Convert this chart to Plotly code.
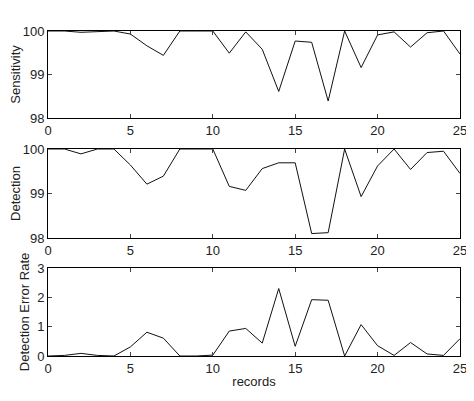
import plotly.graph_objects as go
from plotly.subplots import make_subplots

records = list(range(26))
sensitivity = [100, 100, 99.97, 99.99, 100, 99.93, 99.66, 99.44, 100, 100, 100, 99.49, 99.98,
               99.58, 98.61, 99.77, 99.74, 98.39, 100, 99.16, 99.91, 99.98, 99.63, 99.96, 100, 99.47]
detection = [100, 100, 99.89, 100, 100, 99.64, 99.21, 99.39, 100, 100, 100, 99.16, 99.07,
             99.56, 99.69, 99.69, 98.10, 98.12, 100, 98.93, 99.62, 100, 99.54, 99.92, 99.95, 99.45]
error_rate = [0, 0.02, 0.09, 0.02, 0, 0.31, 0.81, 0.61, 0, 0, 0.03, 0.85, 0.94,
              0.44, 2.3, 0.33, 1.92, 1.9, 0, 1.07, 0.35, 0.02, 0.46, 0.07, 0.02, 0.59]

x_ticks = [0, 5, 10, 15, 20, 25]
panels = [
    (sensitivity, "Sensitivity", [98, 100], [98, 99, 100]),
    (detection, "Detection", [98, 100], [98, 99, 100]),
    (error_rate, "Detection Error Rate", [0, 3], [0, 1, 2, 3]),
]

W, H = 466, 393  # page has an 8px body margin
fig = make_subplots(rows=3, cols=1)
xdom = [40 / W, 452 / W]
ydoms = [[1 - 110 / H, 1 - 23 / H], [1 - 230 / H, 1 - 141 / H], [1 - 348 / H, 1 - 260 / H]]
font = dict(family="Liberation Sans, Arial, sans-serif", size=13, color="#222")

for i, (vals, title, yr, yt) in enumerate(panels):
    r = i + 1
    fig.add_trace(go.Scatter(x=records, y=vals, mode="lines",
                             line=dict(color="#111", width=1), showlegend=False), row=r, col=1)
    fig.update_xaxes(domain=xdom, range=[0, 25], tickvals=x_ticks, ticks="inside", ticklen=4,
                     showline=True, linecolor="black", linewidth=1, mirror="ticks",
                     showgrid=False, zeroline=False, tickfont=font, automargin=False,
                     row=r, col=1)
    fig.update_yaxes(domain=ydoms[i], range=yr, tickvals=yt, ticks="inside", ticklen=4,
                     showline=True, linecolor="black", linewidth=1, mirror="ticks",
                     showgrid=False, zeroline=False, tickfont=font, automargin=False,
                     title=dict(text=title, font=font, standoff=4), row=r, col=1)

fig.update_xaxes(title=dict(text="records", font=font, standoff=2), row=3, col=1)

fig.update_layout(width=W, height=H, margin=dict(l=0, r=0, t=0, b=0),
                  paper_bgcolor="white", plot_bgcolor="white")
fig.write_html("out.html")
